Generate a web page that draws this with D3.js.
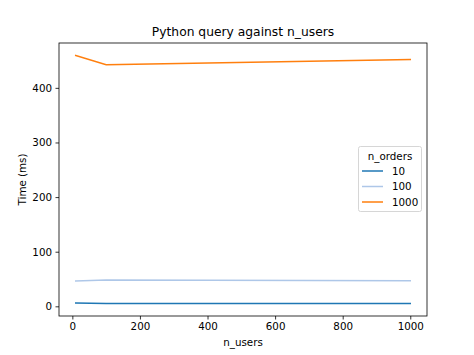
<!DOCTYPE html>
<html><head><meta charset="utf-8">
<script src="https://cdn.jsdelivr.net/npm/d3@7"></script>
<style>body{margin:0;background:#fff}svg{display:block}text{font-family:"DejaVu Sans",sans-serif;fill:#000}</style>
</head><body><svg id="c" width="474" height="355"></svg>
<script>
const nUsers = [10, 100, 1000];
const seriesNames = ["10", "100", "1000"];
const series10 = [6, 5, 5];
const series100 = [46.3, 48.1, 47];
const series1000 = [459.4, 442.4, 452];
const colors = ["#1f77b4", "#aec7e8", "#ff7f0e"];
const xTicks = [0, 200, 400, 600, 800, 1000];
const yTicks = [0, 100, 200, 300, 400];

const svg = d3.select("#c");
const L = 59, R = 427, T = 43, B = 316;
const allVals = series10.concat(series100, series1000);
const ymin = d3.min(allVals), ymax = d3.max(allVals), ym = (ymax - ymin) * 0.05;
const xmin = d3.min(nUsers), xmax = d3.max(nUsers), xm = (xmax - xmin) * 0.05;
const x = d3.scaleLinear().domain([xmin - xm, xmax + xm]).range([L, R]);
const y = d3.scaleLinear().domain([ymin - ym, ymax + ym]).range([B, T]);

const data = [series10, series100, series1000];
const line = d3.line().x((d, i) => x(nUsers[i])).y(d => y(d));
data.forEach((s, k) => {
  svg.append("path").attr("d", line(s)).attr("fill", "none")
    .attr("stroke", colors[k]).attr("stroke-width", 1.5).attr("stroke-linecap", "square");
});

const xa = svg.append("g").attr("transform", `translate(0,${B})`)
  .call(d3.axisBottom(x).tickValues(xTicks).tickSize(3.5).tickPadding(3.5).tickFormat(d3.format("d")));
const ya = svg.append("g").attr("transform", `translate(${L},0)`)
  .call(d3.axisLeft(y).tickValues(yTicks).tickSize(3.5).tickPadding(3.5).tickFormat(d3.format("d")));
[xa, ya].forEach(a => {
  a.select(".domain").remove();
  a.selectAll("text").style("font-size", "10.3px").style("font-family", "DejaVu Sans");
  a.selectAll("line").attr("stroke", "#000").attr("stroke-width", 0.8);
});

svg.append("rect").attr("x", L).attr("y", T).attr("width", R - L).attr("height", B - T)
  .attr("fill", "none").attr("stroke", "#000").attr("stroke-width", 0.8);

svg.append("text").attr("x", (L + R) / 2).attr("y", 36).attr("text-anchor", "middle")
  .style("font-size", "12.3px").text("Python query against n_users");
svg.append("text").attr("x", (L + R) / 2).attr("y", 346).attr("text-anchor", "middle")
  .style("font-size", "10.3px").text("n_users");
svg.append("text").attr("transform", `translate(26,${(T + B) / 2}) rotate(-90)`).attr("text-anchor", "middle")
  .style("font-size", "10.3px").text("Time (ms)");

// legend
const lg = svg.append("g");
lg.append("rect").attr("x", 358.5).attr("y", 146.5).attr("width", 63).attr("height", 65).attr("rx", 2)
  .attr("fill", "#fff").attr("fill-opacity", 0.8).attr("stroke", "#cccccc").attr("stroke-width", 0.8);
lg.append("text").attr("x", 390).attr("y", 160).attr("text-anchor", "middle")
  .style("font-size", "10.3px").text("n_orders");
seriesNames.forEach((n, k) => {
  const yy = 171 + k * 15.5;
  lg.append("line").attr("x1", 362).attr("x2", 383).attr("y1", yy).attr("y2", yy)
    .attr("stroke", colors[k]).attr("stroke-width", 1.5);
  lg.append("text").attr("x", 392).attr("y", yy + 3.7).style("font-size", "10.3px").text(n);
});
</script></body></html>
